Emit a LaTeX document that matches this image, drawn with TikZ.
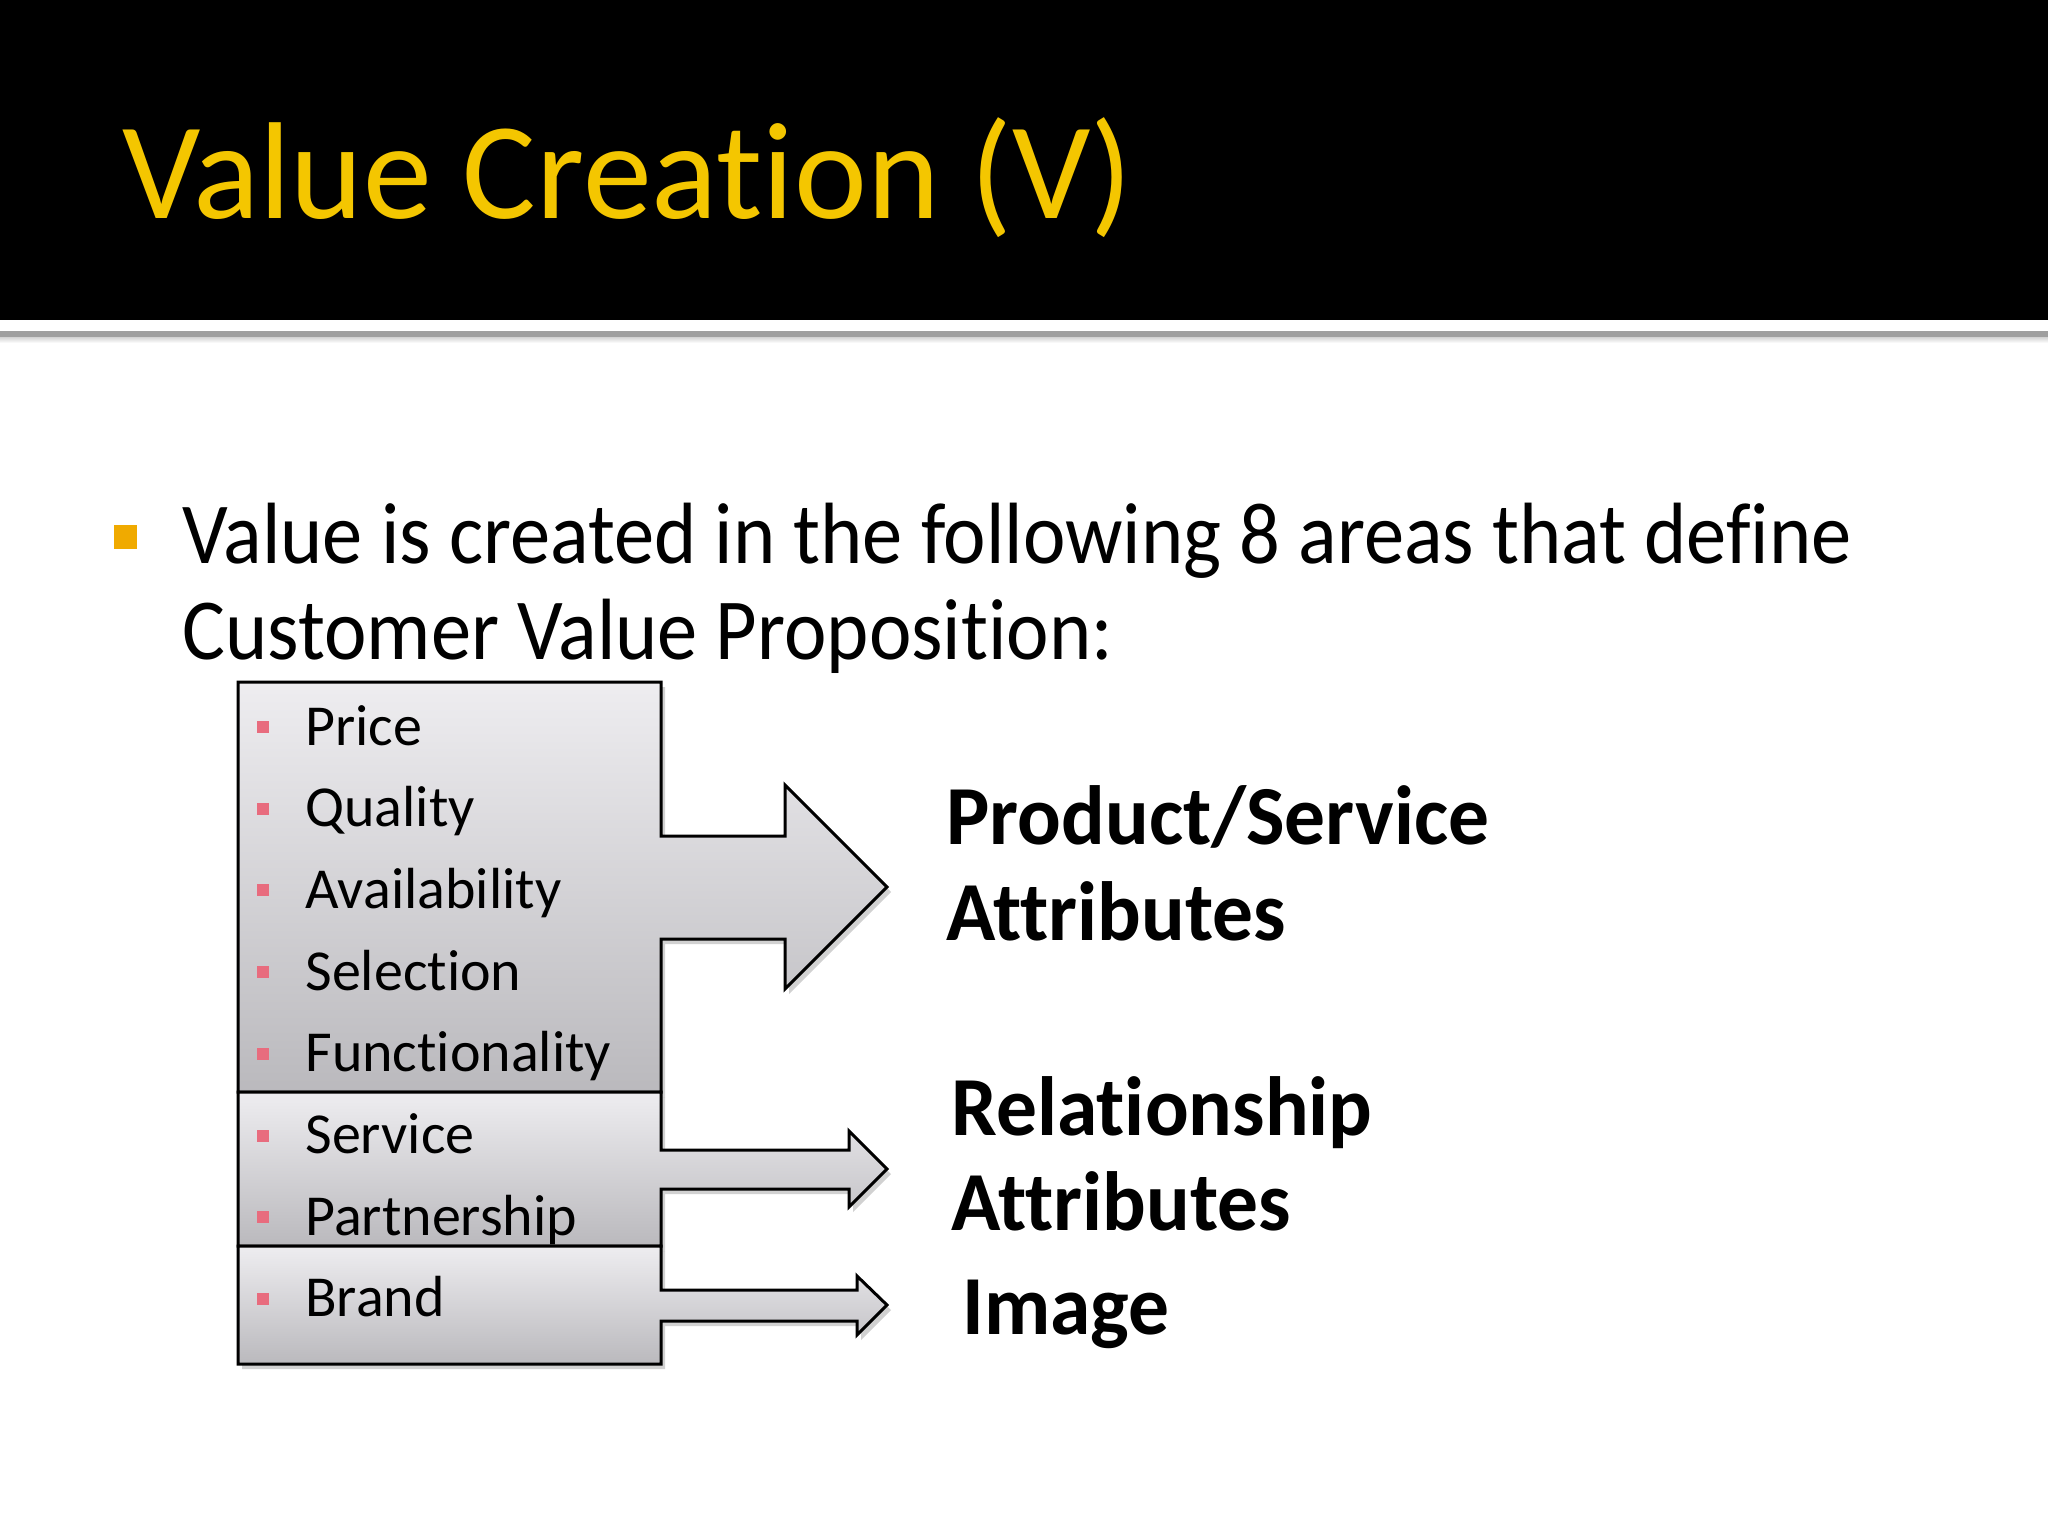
\documentclass[tikz,border=0pt]{standalone}
\usepackage{fontspec}
\setmainfont{Carlito}[Ligatures=NoCommon, RawFeature={-liga;-clig;-calt;-dlig}]
\definecolor{titleyellow}{RGB}{244,198,0}
\definecolor{bulletorange}{RGB}{240,170,0}
\definecolor{bulletpink}{RGB}{232,108,126}
\definecolor{shapetop}{RGB}{238,237,240}
\definecolor{shapebot}{RGB}{186,185,189}
\newcommand{\narrowbody}[1]{\scalebox{0.925}[1]{#1}}
\newcommand{\narrowlabel}[1]{\scalebox{0.97}[1]{#1}}
\tikzset{
  calloutshape/.style={top color=shapetop, bottom color=shapebot, draw=black, line width=1.5pt, line join=miter},
  shadowshape/.style={fill=black, opacity=0.18},
  titletext/.style={anchor=base west, inner sep=0pt, text=titleyellow, font=\fontsize{69}{80}\selectfont},
  bodytext/.style={anchor=base west, inner sep=0pt, font=\fontsize{43.5}{52}\selectfont},
  itemtext/.style={anchor=base west, inner sep=0pt, font=\fontsize{29}{35}\selectfont},
  labeltext/.style={anchor=base west, inner sep=0pt, font=\bfseries\fontsize{42}{50}\selectfont},
  pinkbullet/.style={fill=bulletpink}
}
\begin{document}
\begin{tikzpicture}[x=0.5pt,y=-0.5pt]
\useasboundingbox (0,0) rectangle (2048,1536);
\fill[white] (0,0) rectangle (2048,1536);
% header
\fill[black] (0,0) rectangle (2048,320);
\fill[gray!75] (0,331) rectangle (2048,337);
\shade[top color=gray!35, bottom color=white] (0,337) rectangle (2048,343);
\node[titletext] (title) at (122,218) {Value Creation (V)};
% main bullet
\fill[bulletorange] (114,525) rectangle (137,549);
\node[bodytext] (line1) at (182,563) {\narrowbody{Value is created in the following 8 areas that define}};
\node[bodytext] (line2) at (182,659) {\narrowbody{Customer Value Proposition:}};
% shadows
\fill[shadowshape, shift={(4,5)}] (238,682) -- (661,682) -- (661,836) -- (785,836) -- (785,785) -- (887,887) -- (785,989) -- (785,939) -- (661,939) -- (661,1092) -- (238,1092) -- cycle;
\fill[shadowshape, shift={(4,5)}] (238,1092) -- (661,1092) -- (661,1150) -- (849,1150) -- (849,1131) -- (887,1169) -- (849,1207) -- (849,1189) -- (661,1189) -- (661,1246) -- (238,1246) -- cycle;
\fill[shadowshape, shift={(4,5)}] (238,1246) -- (661,1246) -- (661,1290) -- (857,1290) -- (857,1276) -- (887,1305) -- (857,1335) -- (857,1321) -- (661,1321) -- (661,1364) -- (238,1364) -- cycle;
% callout shapes
\shade[calloutshape] (238,682) -- (661,682) -- (661,836) -- (785,836) -- (785,785) -- (887,887) -- (785,989) -- (785,939) -- (661,939) -- (661,1092) -- (238,1092) -- cycle;
\shade[calloutshape] (238,1092) -- (661,1092) -- (661,1150) -- (849,1150) -- (849,1131) -- (887,1169) -- (849,1207) -- (849,1189) -- (661,1189) -- (661,1246) -- (238,1246) -- cycle;
\shade[calloutshape] (238,1246) -- (661,1246) -- (661,1290) -- (857,1290) -- (857,1276) -- (887,1305) -- (857,1335) -- (857,1321) -- (661,1321) -- (661,1364) -- (238,1364) -- cycle;
% items
\foreach \t [count=\i from 0] in {Price,Quality,Availability,Selection,Functionality,Service,Partnership,Brand}{
  \fill[pinkbullet] (257,{721+81.7*\i}) rectangle (269,{733+81.7*\i});
  \node[itemtext] (item\i) at (305,{745+81.7*\i}) {\t};
}
% labels
\node[labeltext] (psa) at (946,844) {\narrowlabel{Product/Service}};
\node[labeltext] (psb) at (946,940) {\narrowlabel{Attributes}};
\node[labeltext] (rela) at (951,1135) {\narrowlabel{Relationship}};
\node[labeltext] (relb) at (951,1230) {\narrowlabel{Attributes}};
\node[labeltext] (img) at (962,1334) {\narrowlabel{Image}};
\end{tikzpicture}
\end{document}
